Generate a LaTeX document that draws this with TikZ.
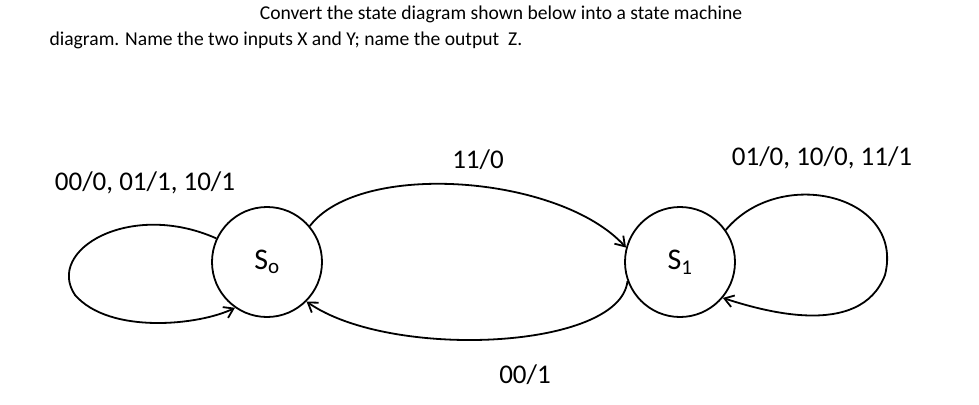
\documentclass[tikz,border=0pt]{standalone}
\usepackage{fontspec}
\setmainfont{Carlito}
\usetikzlibrary{arrows.meta}
\begin{document}
\begin{tikzpicture}[x=1pt,y=-1pt,
  st/.style={draw,circle,line width=1.8pt,minimum size=110pt,inner sep=0pt,font=\fontsize{30}{32}\selectfont},
  edge/.style={line width=1.8pt,-{Straight Barb[length=9pt,width=12pt]}},
  lab/.style={font=\fontsize{27}{29}\selectfont}]
\useasboundingbox (0,0) rectangle (979,404);
\node[font=\fontsize{19.6}{22}\selectfont] (t1) at (501,14) {Convert the state diagram shown below into a state machine};
\node[font=\fontsize{19.6}{22}\selectfont,anchor=west] (t2) at (46,40) {diagram. Name the two inputs X and Y; name the output\ \ Z.};
\node[st] (s0) at (267,262) {S\textsubscript{o}};
\node[st] (s1) at (680,262) {S\textsubscript{1}};
\draw[edge] (s0.155) .. controls (130,200) and (45,250) .. (75,295) .. controls (110,335) and (200,325) .. (s0.235);
\draw[edge] (s1.35) .. controls (780,165) and (905,195) .. (885,275) .. controls (860,340) and (760,310) .. (s1.320);
\draw[edge] (s0.40) .. controls (360,160) and (560,175) .. (s1.165);
\draw[edge] (s1.200) .. controls (620,350) and (390,360) .. (s0.315);
\node[lab] (l1) at (478,160) {11/0};
\node[lab] (l2) at (525,375) {00/1};
\node[lab] (l3) at (145,183) {00/0, 01/1, 10/1};
\node[lab] (l4) at (822,158) {01/0, 10/0, 11/1};
\end{tikzpicture}
\end{document}
